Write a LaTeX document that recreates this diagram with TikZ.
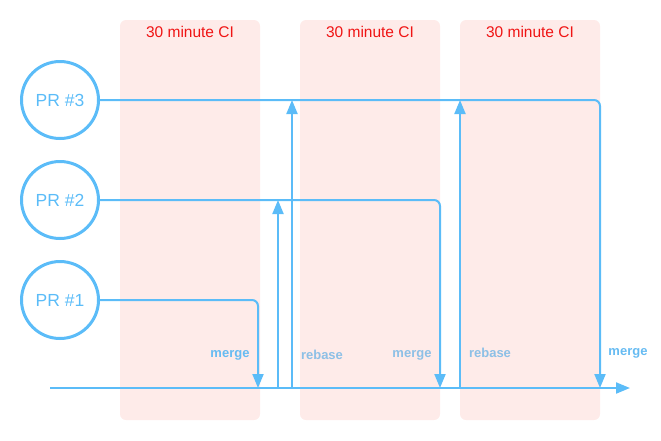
\documentclass[tikz,border=0pt]{standalone}
\usepackage{fontspec}
\setmainfont{Liberation Sans}
\usetikzlibrary{arrows.meta}
\definecolor{flow}{HTML}{5BBCF8}
\definecolor{cibg}{HTML}{FEEBE9}
\definecolor{cired}{HTML}{F01414}
\definecolor{mergec}{HTML}{66BBF2}
\definecolor{rebasec}{HTML}{8DC0E6}
\tikzset{
  cibox/.style={fill=cibg, rounded corners=6pt},
  cilabel/.style={text=cired, font=\fontsize{15.5pt}{17pt}\selectfont},
  prnode/.style={circle, draw=flow, line width=3pt, minimum size=77pt, inner sep=0pt, text=flow, font=\fontsize{17.5pt}{19pt}\selectfont},
  flowline/.style={draw=flow, line width=2pt, rounded corners=6pt, -{Triangle[length=14pt,width=11pt]}},
  plainline/.style={draw=flow, line width=2pt},
  mergelabel/.style={text=mergec, font=\bfseries\fontsize{13pt}{15pt}\selectfont},
  rebaselabel/.style={text=rebasec, font=\bfseries\fontsize{13pt}{15pt}\selectfont}
}
\begin{document}
\begin{tikzpicture}[x=1pt,y=-1pt]
\useasboundingbox (0,0) rectangle (661,440);
% CI windows
\path[cibox] (120,20) rectangle (260,420);
\path[cibox] (300,20) rectangle (440,420);
\path[cibox] (460,20) rectangle (600,420);
\node[cilabel] (ci1) at (190,32) {30 minute CI};
\node[cilabel] (ci2) at (370,32) {30 minute CI};
\node[cilabel] (ci3) at (530,32) {30 minute CI};
% PR nodes
\node[prnode] (pr3) at (60,100) {PR \#3};
\node[prnode] (pr2) at (60,200) {PR \#2};
\node[prnode] (pr1) at (60,300) {PR \#1};
% timeline
\coordinate (tstart) at (50,388);
\coordinate (tend) at (630,388);
\draw[plainline, -{Triangle[length=14pt,width=11pt]}] (tstart) -- (tend);
% merge points on timeline
\coordinate (m1) at (258,388);
\coordinate (m2) at (440,388);
\coordinate (m3) at (600,388);
% rebase points
\coordinate (r2a) at (278,388);
\coordinate (r2b) at (278,200);
\coordinate (r3a) at (292,388);
\coordinate (r3b) at (292,100);
\coordinate (r3c) at (460,388);
\coordinate (r3d) at (460,100);
% PR flows
\draw[flowline] (pr1.east) -- (258,300) -- (m1);
\draw[flowline] (pr2.east) -- (440,200) -- (m2);
\draw[flowline] (pr3.east) -- (600,100) -- (m3);
% rebase arrows
\draw[flowline] (r2a) -- (r2b);
\draw[flowline] (r3a) -- (r3b);
\draw[flowline] (r3c) -- (r3d);
% labels
\node[mergelabel] (lm1) at (230,355) {merge};
\node[rebaselabel] (lr1) at (322,355) {rebase};
\node[rebaselabel] (lm2) at (412,355) {merge};
\node[rebaselabel] (lr2) at (490,353) {rebase};
\node[mergelabel] (lm3) at (628,353) {merge};
\end{tikzpicture}
\end{document}
